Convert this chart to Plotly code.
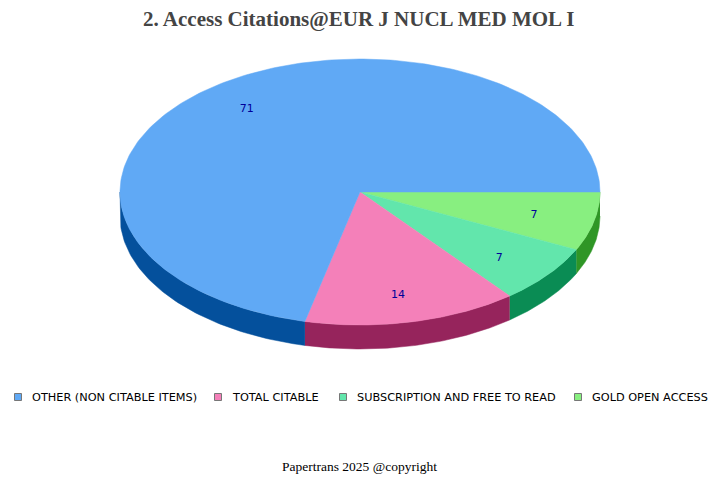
import numpy as np
import plotly.graph_objects as go

# clockwise from 3 o'clock, as the slices sit in the picture
CATEGORIES = ["GOLD OPEN ACCESS", "SUBSCRIPTION AND FREE TO READ", "TOTAL CITABLE", "OTHER (NON CITABLE ITEMS)"]
VALUES = [7.14, 7.14, 14.4, 71.3]
LABELS = ["7", "7", "14", "71"]

TOP_COLORS = ["#88EF80", "#62E6AC", "#F480B9", "#60A9F5"]
SIDE_COLORS = ["#2F9626", "#0A8C54", "#96245C", "#04509C"]

# legend runs left to right, so the order is reversed from the slices
LEGEND_ORDER = [3, 2, 1, 0]
LEGEND_X = [18, 218, 343, 578]

# pie geometry in page pixels
CX, CY = 360, 192
RX, RY = 240, 133
DEPTH = 24

fig = go.Figure()

fractions = np.array(VALUES) / sum(VALUES)
edges = np.concatenate([[0], np.cumsum(fractions)]) * 2 * np.pi


def add_poly(xs, ys, color):
    fig.add_trace(go.Scatter(
        x=xs, y=ys, mode="lines", fill="toself", fillcolor=color,
        line=dict(color=color, width=0.5), hoverinfo="skip", showlegend=False,
    ))


# ── Side walls (only the front half of the rim shows) ─────────
for i in range(len(VALUES)):
    a0, a1 = edges[i], min(edges[i + 1], np.pi)
    if a0 >= np.pi:
        continue
    t = np.linspace(a0, a1, 80)
    xs = CX + RX * np.cos(t)
    ys = CY + RY * np.sin(t)
    add_poly(np.concatenate([xs, xs[::-1]]),
             np.concatenate([ys, ys[::-1] + DEPTH]),
             SIDE_COLORS[i])

# ── Top faces ─────────────────────────────────────────────────
for i in range(len(VALUES)):
    t = np.linspace(edges[i], edges[i + 1], 240)
    add_poly(np.concatenate([[CX], CX + RX * np.cos(t), [CX]]),
             np.concatenate([[CY], CY + RY * np.sin(t), [CY]]),
             TOP_COLORS[i])

# ── Slice labels ──────────────────────────────────────────────
mid = (edges[:-1] + edges[1:]) / 2
fig.add_trace(go.Scatter(
    x=CX + RX * 0.75 * np.cos(mid) - 1.5,
    y=CY + RY * 0.795 * np.sin(mid),
    mode="text", text=LABELS, hoverinfo="skip", showlegend=False,
    textfont=dict(family="DejaVu Sans", size=11, color="#000099"),
))

# ── Legend ────────────────────────────────────────────────────
for x, i in zip(LEGEND_X, LEGEND_ORDER):
    fig.add_trace(go.Scatter(
        x=[x], y=[397], mode="markers", hoverinfo="skip", showlegend=False,
        marker=dict(symbol="square", size=7, color=TOP_COLORS[i],
                    line=dict(color="#777777", width=1)),
    ))
    fig.add_annotation(
        x=x + 11.5, y=397, text=CATEGORIES[i], showarrow=False, xanchor="left",
        yanchor="middle", font=dict(family="DejaVu Sans", size=11.3, color="#000000"),
    )

fig.add_annotation(
    x=358.5, y=19, text="<b>2. Access Citations@EUR J NUCL MED MOL I</b>",
    showarrow=False, font=dict(family="Liberation Serif", size=21, color="#444444"),
)
fig.add_annotation(
    x=359, y=466, text="Papertrans 2025 @copyright",
    showarrow=False, font=dict(family="Liberation Serif", size=13.5, color="#000000"),
)

# the page has an 8px body margin, so the figure starts at (8, 8)
fig.update_layout(
    width=712, height=472, autosize=False,
    margin=dict(l=0, r=0, t=0, b=0),
    paper_bgcolor="white", plot_bgcolor="white",
    xaxis=dict(range=[8, 720], visible=False, fixedrange=True),
    yaxis=dict(range=[480, 8], visible=False, fixedrange=True),
)

fig.write_html("out.html", config=dict(displayModeBar=False))
